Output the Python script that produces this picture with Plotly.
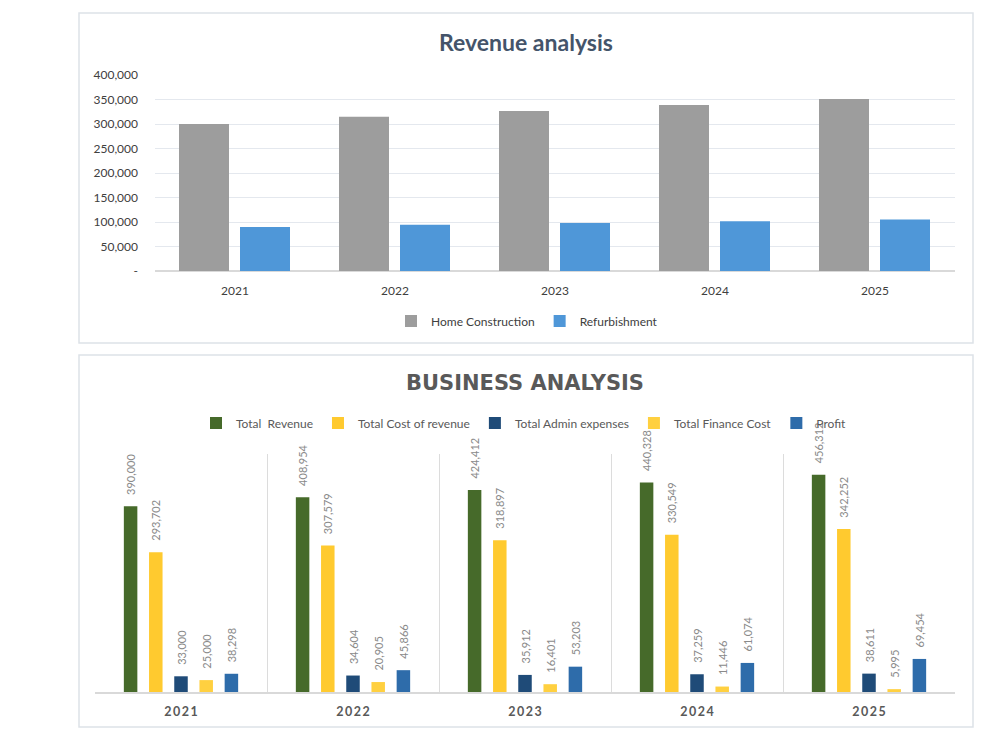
import plotly.graph_objects as go

# ---- data ----
years = ['2021', '2022', '2023', '2024', '2025']

home_construction = [300000, 314580, 326470, 338712, 351009]
refurbishment = [90000, 94374, 97942, 101616, 105303]

total_revenue = [390000, 408954, 424412, 440328, 456312]
total_cost_revenue = [293702, 307579, 318897, 330549, 342252]
total_admin = [33000, 34604, 35912, 37259, 38611]
total_finance = [25000, 20905, 16401, 11446, 5995]
profit = [38298, 45866, 53203, 61074, 69454]

rev_ticks = [0, 50000, 100000, 150000, 200000, 250000, 300000, 350000, 400000]

FONT = 'Lato'
W, H = 1000, 750


def px_x(p):
    return p / W


def px_y(p):
    return 1 - p / H


fig = go.Figure()

# ---- top chart: Revenue analysis ----
top_w = 50 / 160
fig.add_trace(go.Bar(
    x=years, y=home_construction, name='Home Construction',
    marker=dict(color='#9d9d9d', line=dict(width=0)),
    width=top_w, offset=-56 / 160,
    xaxis='x', yaxis='y', legend='legend',
))
fig.add_trace(go.Bar(
    x=years, y=refurbishment, name='Refurbishment',
    marker=dict(color='#4f97d8', line=dict(width=0)),
    width=top_w, offset=5 / 160,
    xaxis='x', yaxis='y', legend='legend',
))

# ---- bottom chart: Business analysis ----
biz_series = [
    ('Total  Revenue', total_revenue, '#466a2a'),
    ('Total Cost of revenue', total_cost_revenue, '#ffca2f'),
    ('Total Admin expenses', total_admin, '#1f4b78'),
    ('Total Finance Cost', total_finance, '#ffd040'),
    ('Profit', profit, '#2e6caa'),
]
slot = 25.2 / 172
bw = 13.5 / 172
for i, (name, vals, col) in enumerate(biz_series):
    fig.add_trace(go.Bar(
        x=years, y=vals, name=name,
        marker=dict(color=col, line=dict(width=0)),
        width=bw, offset=(i - 2) * slot - bw / 2,
        text=['\u00a0\u00a0\u00a0' + f'{v:,}' for v in vals],
        textposition='outside', textangle=-90, constraintext='none',
        cliponaxis=False,
        textfont=dict(family=FONT, size=11, color='#8a8a8a'),
        xaxis='x2', yaxis='y2', legend='legend2',
    ))

fig.update_layout(
    width=W, height=H,
    margin=dict(l=0, r=0, t=0, b=0, pad=0, autoexpand=False),
    paper_bgcolor='white', plot_bgcolor='white',
    font=dict(family=FONT, color='#595959'),
    barmode='group',
    xaxis=dict(
        domain=[px_x(155), px_x(955)], anchor='y', automargin=False,
        showgrid=False, showline=False, ticks='',
        tickfont=dict(size=12, color='#404040'),
        ticklabelstandoff=11,
    ),
    yaxis=dict(
        domain=[px_y(271), px_y(75)], anchor='x', automargin=False,
        range=[0, 400000],
        tickvals=rev_ticks,
        ticktext=['-' if v == 0 else f'{v:,}' for v in rev_ticks],
        gridcolor='#e4e8ee', gridwidth=1,
        zeroline=True, zerolinecolor='#d9d9d9', zerolinewidth=1.5,
        tickfont=dict(size=12, color='#404040'),
        ticklabelstandoff=16,
    ),
    xaxis2=dict(
        domain=[px_x(95), px_x(955)], anchor='y2', automargin=False,
        tickson='boundaries', showgrid=True, gridcolor='#dcdcdc', gridwidth=1,
        showline=True, linecolor='#d9d9d9', linewidth=1.5,
        ticks='',
        tickvals=years,
        ticktext=['\u2009'.join(y) for y in years],
        tickfont=dict(size=12.5, color='#595959', weight='bold'),
        ticklabelstandoff=7,
    ),
    yaxis2=dict(
        domain=[px_y(692), px_y(454)], anchor='x2', automargin=False,
        range=[0, 500000],
        showgrid=False, zeroline=False, showticklabels=False,
    ),
    legend=dict(
        orientation='h', x=px_x(527), xanchor='center',
        y=px_y(321), yanchor='middle',
        font=dict(size=12, color='#404040'),
        itemwidth=30, bgcolor='rgba(0,0,0,0)',
    ),
    legend2=dict(
        orientation='h', x=px_x(524), xanchor='center',
        y=px_y(423), yanchor='middle',
        font=dict(size=12, color='#595959'),
        itemwidth=30, bgcolor='rgba(0,0,0,0)',
    ),
    showlegend=True,
)

# panel frames
for y0, y1 in [(13, 343), (355, 727)]:
    fig.add_shape(type='rect', xref='paper', yref='paper',
                  x0=px_x(79), x1=px_x(973), y0=px_y(y1), y1=px_y(y0),
                  line=dict(color='#dde2e8', width=1.5), fillcolor='rgba(0,0,0,0)',
                  layer='below')

fig.add_annotation(text='Revenue analysis', xref='paper', yref='paper',
                   x=px_x(526), y=px_y(42), showarrow=False,
                   xanchor='center', yanchor='middle',
                   font=dict(family=FONT, size=23, color='#44546a', weight='bold'))
fig.add_annotation(text='BUSINESS ANALYSIS', xref='paper', yref='paper',
                   x=px_x(525), y=px_y(383), showarrow=False,
                   xanchor='center', yanchor='middle',
                   font=dict(family='DejaVu Sans', size=21, color='#595959', weight='bold'))

fig.write_html(
    'out.html',
    config={'displayModeBar': False},
    post_script="document.body.style.margin='0';",
)
